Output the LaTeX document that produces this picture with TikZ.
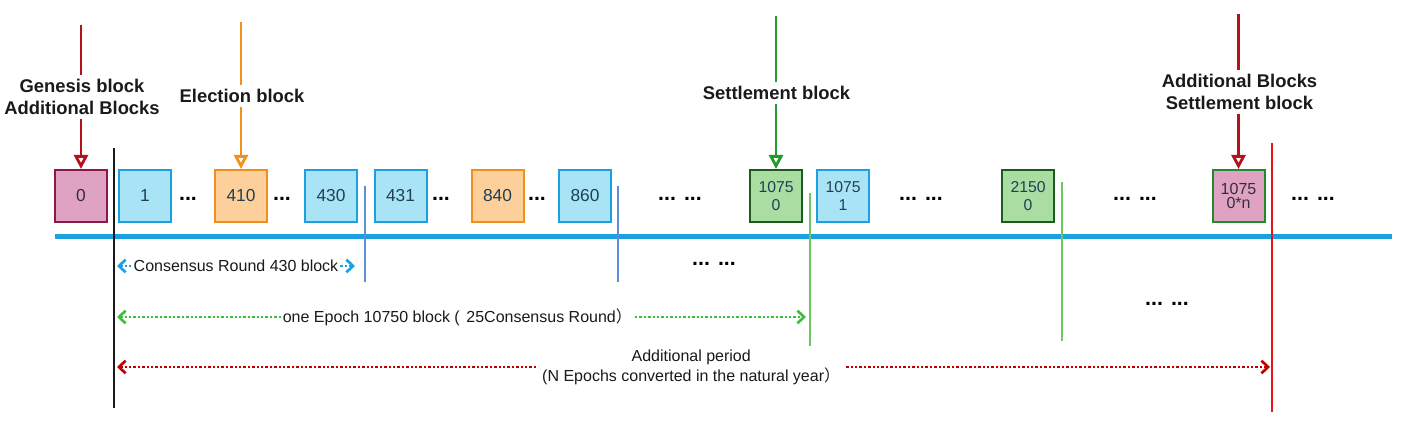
\documentclass[tikz,border=0pt]{standalone}
\usepackage{fontspec}
\setmainfont{Liberation Sans}
\newfontfamily\cjk{Noto Sans CJK SC}
\usetikzlibrary{arrows.meta}
\definecolor{genred}{HTML}{B3121C}
\definecolor{elecor}{HTML}{F2921E}
\definecolor{setgr}{HTML}{1F9A2B}
\definecolor{pinkfill}{HTML}{E0A2C2}
\definecolor{pinkbd}{HTML}{8A1848}
\definecolor{bluefill}{HTML}{A9E4F6}
\definecolor{bluebd}{HTML}{1BA0E2}
\definecolor{orfill}{HTML}{FDD09B}
\definecolor{orbd}{HTML}{F08E1E}
\definecolor{grfill}{HTML}{A9DDA2}
\definecolor{grbd}{HTML}{1B5C1E}
\definecolor{grbd2}{HTML}{1E8C2C}
\definecolor{chain}{HTML}{1BA0E0}
\definecolor{roundln}{HTML}{5B8FD8}
\definecolor{epochln}{HTML}{6CC862}
\definecolor{yearln}{HTML}{E8141C}
\definecolor{dotgreen}{HTML}{3DBE3D}
\definecolor{dotred}{HTML}{C00000}
\definecolor{boxtxt}{HTML}{1F4052}
\definecolor{labtxt}{HTML}{1A1A1A}
\begin{document}
\begin{tikzpicture}[x=0.75pt,y=-0.75pt,
  blk/.style={draw, line width=1.5pt, minimum size=39pt, inner sep=0pt,
    font=\fontsize{13}{13.5}\selectfont, text=boxtxt, align=center},
  blueblk/.style={blk, fill=bluefill, draw=bluebd},
  orblk/.style={blk, fill=orfill, draw=orbd},
  grblk/.style={blk, fill=grfill, draw=grbd, font=\fontsize{11.8}{13.5}\selectfont},
  pinkblk/.style={blk, fill=pinkfill, draw=pinkbd, text=labtxt!90},
  lab/.style={font=\bfseries\fontsize{13.8}{16.5}\selectfont, align=center, inner sep=3pt, text=labtxt},
  dotsnode/.style={font=\bfseries\fontsize{16}{16}\selectfont, inner sep=0pt, text=black},
  topline/.style={line width=2.1pt},
  toparrow/.style={line width=2.1pt, -{Triangle[open,length=10.5pt,width=10.5pt]}},
  vline/.style={line width=1.9pt},
  dotarr/.style={line width=2pt, dash pattern=on 1.7pt off 1.6pt,
    {Straight Barb[length=5pt,width=9.5pt]}-{Straight Barb[length=5pt,width=9.5pt]}},
  btxt/.style={font=\fontsize{12}{15}\selectfont, text=labtxt, fill=white, inner sep=1.5pt, align=center}
]
\useasboundingbox (0,0) rectangle (1408,427);

% chain line
\coordinate (chainL) at (55,236.5);
\coordinate (chainR) at (1392,236.5);
\draw[chain, line width=3.8pt] (chainL) -- (chainR);

% blocks
\node[pinkblk] (b0) at (81,196) {0};
\node[blueblk] (b1) at (145,196) {1};
\node[orblk] (b410) at (241,196) {410};
\node[blueblk] (b430) at (331,196) {430};
\node[blueblk] (b431) at (400.5,196) {431};
\node[orblk] (b840) at (497.5,196) {840};
\node[blueblk] (b860) at (585,196) {860};
\node[grblk] (b10750) at (776,196) {1075\\0};
\node[blueblk, font=\fontsize{11.8}{13.5}\selectfont] (b10751) at (843,196) {1075\\1};
\node[grblk] (b21500) at (1028,196) {2150\\0};
\node[pinkblk, draw=grbd2, font=\fontsize{12}{10.5}\selectfont] (bn) at (1238.5,196) {1075\\0*n};

% dots
\node[dotsnode] (d1) at (188,199) {...};
\node[dotsnode] (d2) at (282,199) {...};
\node[dotsnode] (d3) at (441,199) {...};
\node[dotsnode] (d4) at (537,199) {...};
\node[dotsnode] (d5) at (680,199) {...\hspace{6pt}...};
\node[dotsnode] (d6) at (921,199) {...\hspace{6pt}...};
\node[dotsnode] (d7) at (1135,199) {...\hspace{6pt}...};
\node[dotsnode] (d8) at (1313,199) {...\hspace{6pt}...};
\node[dotsnode] (d9) at (714,264) {...\hspace{6pt}...};
\node[dotsnode] (d10) at (1167,304) {...\hspace{6pt}...};

% vertical separators
\coordinate (blkT) at (114,148); \coordinate (blkB) at (114,408);
\coordinate (r1T) at (365,186); \coordinate (r1B) at (365,282);
\coordinate (r2T) at (618,186); \coordinate (r2B) at (618,282);
\coordinate (e1T) at (810,193); \coordinate (e1B) at (810,346);
\coordinate (e2T) at (1062,182); \coordinate (e2B) at (1062,341);
\coordinate (yT) at (1272,143); \coordinate (yB) at (1272,412);
\draw[vline, black!90, line width=2.2pt] (blkT) -- (blkB);
\draw[vline, roundln] (r1T) -- (r1B);
\draw[vline, roundln] (r2T) -- (r2B);
\draw[vline, epochln] (e1T) -- (e1B);
\draw[vline, epochln] (e2T) -- (e2B);
\draw[vline, yearln] (yT) -- (yB);

% top labels and arrows
\node[lab] (glab) at (82,97) {Genesis block\\Additional Blocks};
\coordinate (gtop) at (81,25);
\draw[topline, genred] (gtop) -- (gtop |- glab.north);
\draw[toparrow, genred] (b0.north |- glab.south) -- (b0.north);

\node[lab] (elab) at (242,96) {Election block};
\coordinate (etop) at (241,22);
\draw[topline, elecor] (etop) -- (etop |- elab.north);
\draw[toparrow, elecor] (b410.north |- elab.south) -- (b410.north);

\node[lab] (slab) at (776.5,93) {Settlement block};
\coordinate (stop) at (776,16);
\draw[topline, setgr] (stop) -- (stop |- slab.north);
\draw[toparrow, setgr] (b10750.north |- slab.south) -- (b10750.north);

\node[lab] (alab) at (1239.5,92) {Additional Blocks\\Settlement block};
\coordinate (atop) at (1238.5,14);
\draw[topline, genred] (atop) -- (atop |- alab.north);
\draw[toparrow, genred] (bn.north |- alab.south) -- (bn.north);

% spans
\coordinate (rL) at (117,266); \coordinate (rR) at (355,266);
\coordinate (eL) at (117,317); \coordinate (eR) at (806,317);
\coordinate (yL) at (117,367); \coordinate (yR) at (1270,367);
\draw[dotarr, chain] (rL) -- node[btxt] (rtxt) {Consensus Round 430 block} (rR);
\draw[dotarr, dotgreen] (eL) -- node[btxt, pos=0.494] (etxt) {one Epoch 10750 block (\hspace{5pt}25Consensus Round{\cjk ）}} (eR);
\draw[dotarr, dotred] (yL) -- node[btxt, pos=0.498, inner xsep=4pt] (ytxt) {Additional period\\(N Epochs converted in the natural year{\cjk ）}} (yR);
\end{tikzpicture}
\end{document}
